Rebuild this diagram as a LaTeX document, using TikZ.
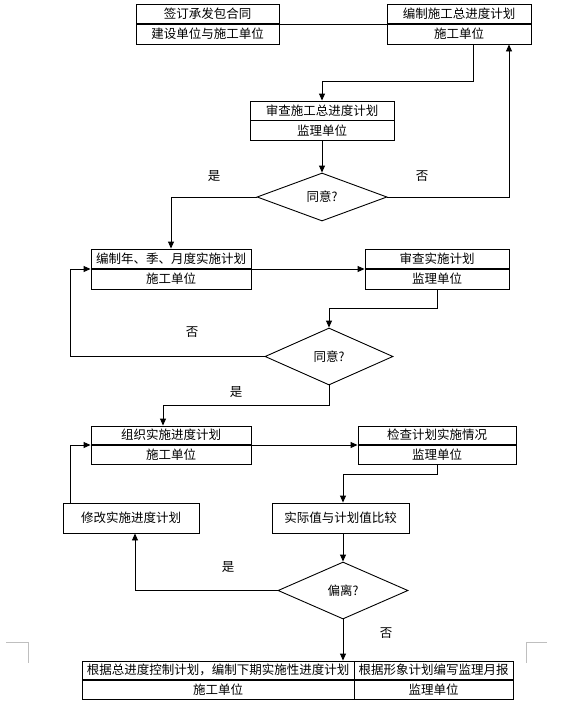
\documentclass[tikz,border=0pt]{standalone}
\usepackage{fontspec}
\setmainfont{Noto Sans CJK SC}
\usetikzlibrary{shapes.geometric, arrows.meta}

\begin{document}
\begin{tikzpicture}[x=1pt, y=-1pt,
    every node/.style={font=\fontsize{12.5}{20}\selectfont, inner sep=0pt},
    box/.style={draw, line width=0.9pt, minimum height=40pt, align=center},
    twobox/.style={box, path picture={\draw[line width=1.8pt] (path picture bounding box.west) -- (path picture bounding box.east);}},
    decision/.style={draw, diamond, line width=0.9pt, aspect=2.5},
    link/.style={line width=0.9pt},
    arr/.style={link, -{Triangle[length=7pt, width=6pt]}}]
    \useasboundingbox (0,0) rectangle (564,704);

    % Master schedule
    \node[twobox, minimum width=143pt] (sign) at (207.5,24) {签订承发包合同\\建设单位与施工单位};
    \node[twobox, minimum width=144pt] (draft) at (459,24) {编制施工总进度计划\\施工单位};
    \node[twobox, minimum width=144pt, minimum height=39pt] (review) at (322,120.5) {审查施工总进度计划\\监理单位};
    \node[decision, minimum width=130pt, minimum height=48pt] (agree1) at (322,197) {同意?};
    \node (yes1) at (214,176) {是};
    \node (no1) at (422,176) {否};

    % Periodic plans
    \node[twobox, minimum width=160pt] (annual) at (171,269) {编制年、季、月度实施计划\\施工单位};
    \node[twobox, minimum width=144pt] (check) at (437,269) {审查实施计划\\监理单位};
    \node[decision, minimum width=128pt, minimum height=57pt] (agree2) at (329,356.5) {同意?};
    \node (no2) at (192,332) {否};
    \node (yes2) at (236,392) {是};

    % Execution and control
    \node[twobox, minimum width=160pt, minimum height=38pt] (organize) at (171,445) {组织实施进度计划\\施工单位};
    \node[twobox, minimum width=158pt, minimum height=38pt] (inspect) at (437,445) {检查计划实施情况\\监理单位};
    \node[box, minimum width=137pt, minimum height=30pt] (compare) at (340.5,518) {实际值与计划值比较};
    \node[box, minimum width=136pt, minimum height=30pt] (revise) at (131,518) {修改实施进度计划};
    \node[decision, minimum width=130pt, minimum height=57pt] (deviate) at (343,590.5) {偏离?};
    \node (yes3) at (228,567) {是};
    \node (no3) at (386,633) {否};

    % Next period
    \node[twobox, minimum width=272pt, minimum height=38pt] (nextplan) at (218,680) {根据总进度控制计划，编制下期实施性进度计划\\施工单位};
    \node[twobox, minimum width=159pt, minimum height=38pt] (report) at (433.5,680) {根据形象计划编写监理月报\\监理单位};

    \coordinate (k1) at (473,81);
    \coordinate (k2) at (509,197);
    \coordinate (k3) at (329,308);
    \coordinate (k4) at (70,0);
    \coordinate (k5) at (163,405);
    \coordinate (k6) at (343,474);
    \coordinate (k7) at (135,0);

    \draw[link] (sign.east) -- (draft.west);
    \draw[arr] (draft.south -| k1) -- (k1) -| (review.north);
    \draw[arr] (review.south) -- (agree1.north);
    \draw[arr] (agree1.east) -- (k2) -- (k2 |- draft.south);
    \draw[arr] (agree1.west) -| (annual.north);
    \draw[arr] (annual.east) -- (check.west);
    \draw[arr] (check.south) |- (k3) -- (agree2.north);
    \draw[arr] (agree2.west) -| (k4 |- annual.west) -- (annual.west);
    \draw[arr] (agree2.south) |- (k5) -- (k5 |- organize.north);
    \draw[arr] (organize.east) -- (inspect.west);
    \draw[arr] (inspect.south) |- (k6) -- (k6 |- compare.north);
    \draw[arr] (deviate.north |- compare.south) -- (deviate.north);
    \draw[arr] (deviate.west) -| (k7 |- revise.south);
    \draw[arr] (k4 |- revise.north) |- (organize.west);
    \draw[arr] (deviate.south) -- (deviate.south |- nextplan.north);

    % page corner marks
    \draw[gray!50, line width=0.8pt] (6,642) -- (28,642) -- (28,663);
    \draw[gray!50, line width=0.8pt] (547,642) -- (526,642) -- (526,663);
\end{tikzpicture}
\end{document}
